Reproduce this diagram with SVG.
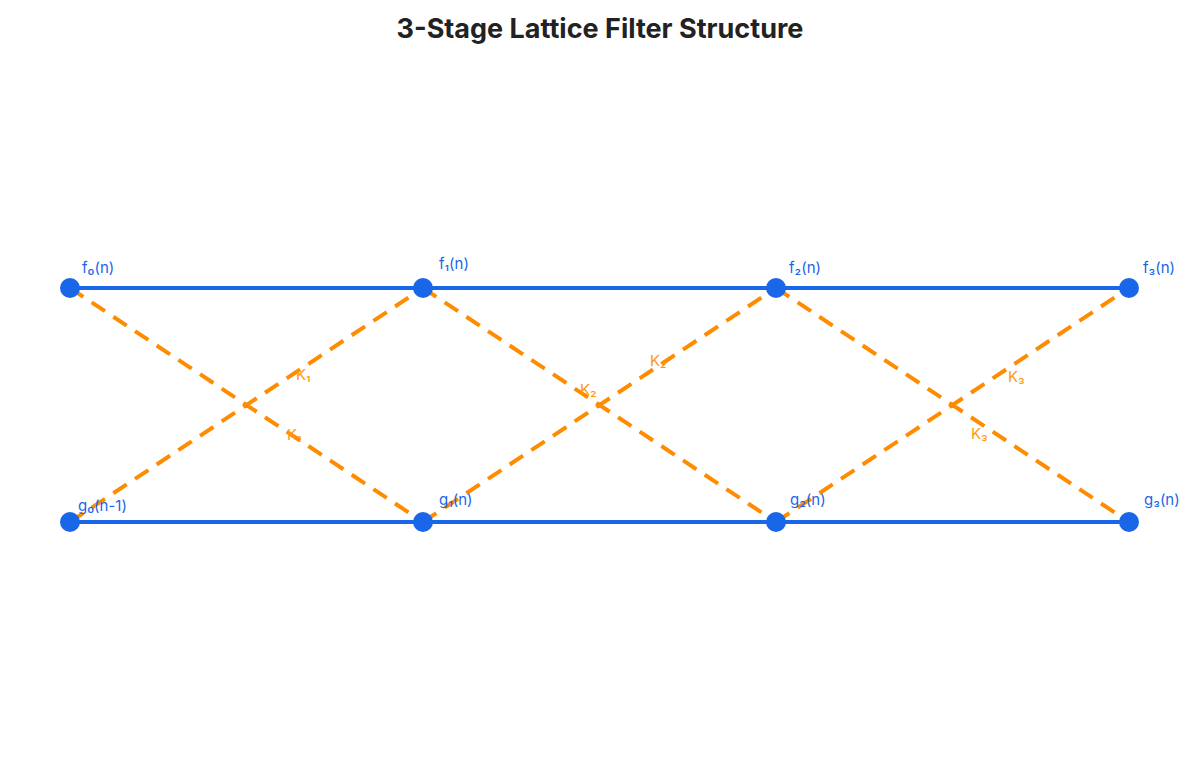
<svg xmlns="http://www.w3.org/2000/svg" width="1200" height="770" viewBox="0 0 1200 770">
<style>
.t{font-family:Inter,"Noto Sans",sans-serif;font-size:27px;font-weight:700;fill:#222}
.n{fill:#1a66e8}
.lb{font-family:Inter,"Noto Sans",sans-serif;font-size:15px;fill:#1a66e8}
.k{font-family:Inter,"Noto Sans",sans-serif;font-size:15px;fill:#ff9912}
.s{stroke:#1a66e8;stroke-width:4;fill:none}
.d{stroke:#ff8c00;stroke-width:4;stroke-dasharray:16,10;fill:none}
</style>
<rect width="1200" height="770" fill="#fff"/>
<text class="t" x="600" y="38" text-anchor="middle">3-Stage Lattice Filter Structure</text>
<g id="connectors">
<path class="s" d="M70 288H1129M70 522H1129"/>
<path class="d" d="M70 288L423 522M70 522L423 288M423 288L776 522M423 522L776 288M776 288L1129 522M776 522L1129 288"/>
</g>
<g id="n_f0"><circle class="n" cx="70" cy="288" r="10"/><text class="lb" x="82" y="273">f₀(n)</text></g>
<g id="n_f1"><circle class="n" cx="423" cy="288" r="10"/><text class="lb" x="439" y="269">f₁(n)</text></g>
<g id="n_f2"><circle class="n" cx="776" cy="288" r="10"/><text class="lb" x="789" y="273">f₂(n)</text></g>
<g id="n_f3"><circle class="n" cx="1129" cy="288" r="10"/><text class="lb" x="1143" y="273">f₃(n)</text></g>
<g id="n_g0"><circle class="n" cx="70" cy="522" r="10"/><text class="lb" x="78" y="511">g₀(n-1)</text></g>
<g id="n_g1"><circle class="n" cx="423" cy="522" r="10"/><text class="lb" x="439" y="505">g₁(n)</text></g>
<g id="n_g2"><circle class="n" cx="776" cy="522" r="10"/><text class="lb" x="790" y="505">g₂(n)</text></g>
<g id="n_g3"><circle class="n" cx="1129" cy="522" r="10"/><text class="lb" x="1144" y="505">g₃(n)</text></g>
<g id="klabels">
<text class="k" x="296" y="380">K₁</text>
<text class="k" x="287" y="440">K₁</text>
<text class="k" x="650" y="366">K₂</text>
<text class="k" x="580" y="395">K₂</text>
<text class="k" x="1008" y="382">K₃</text>
<text class="k" x="971" y="439">K₃</text>
</g>
</svg>
